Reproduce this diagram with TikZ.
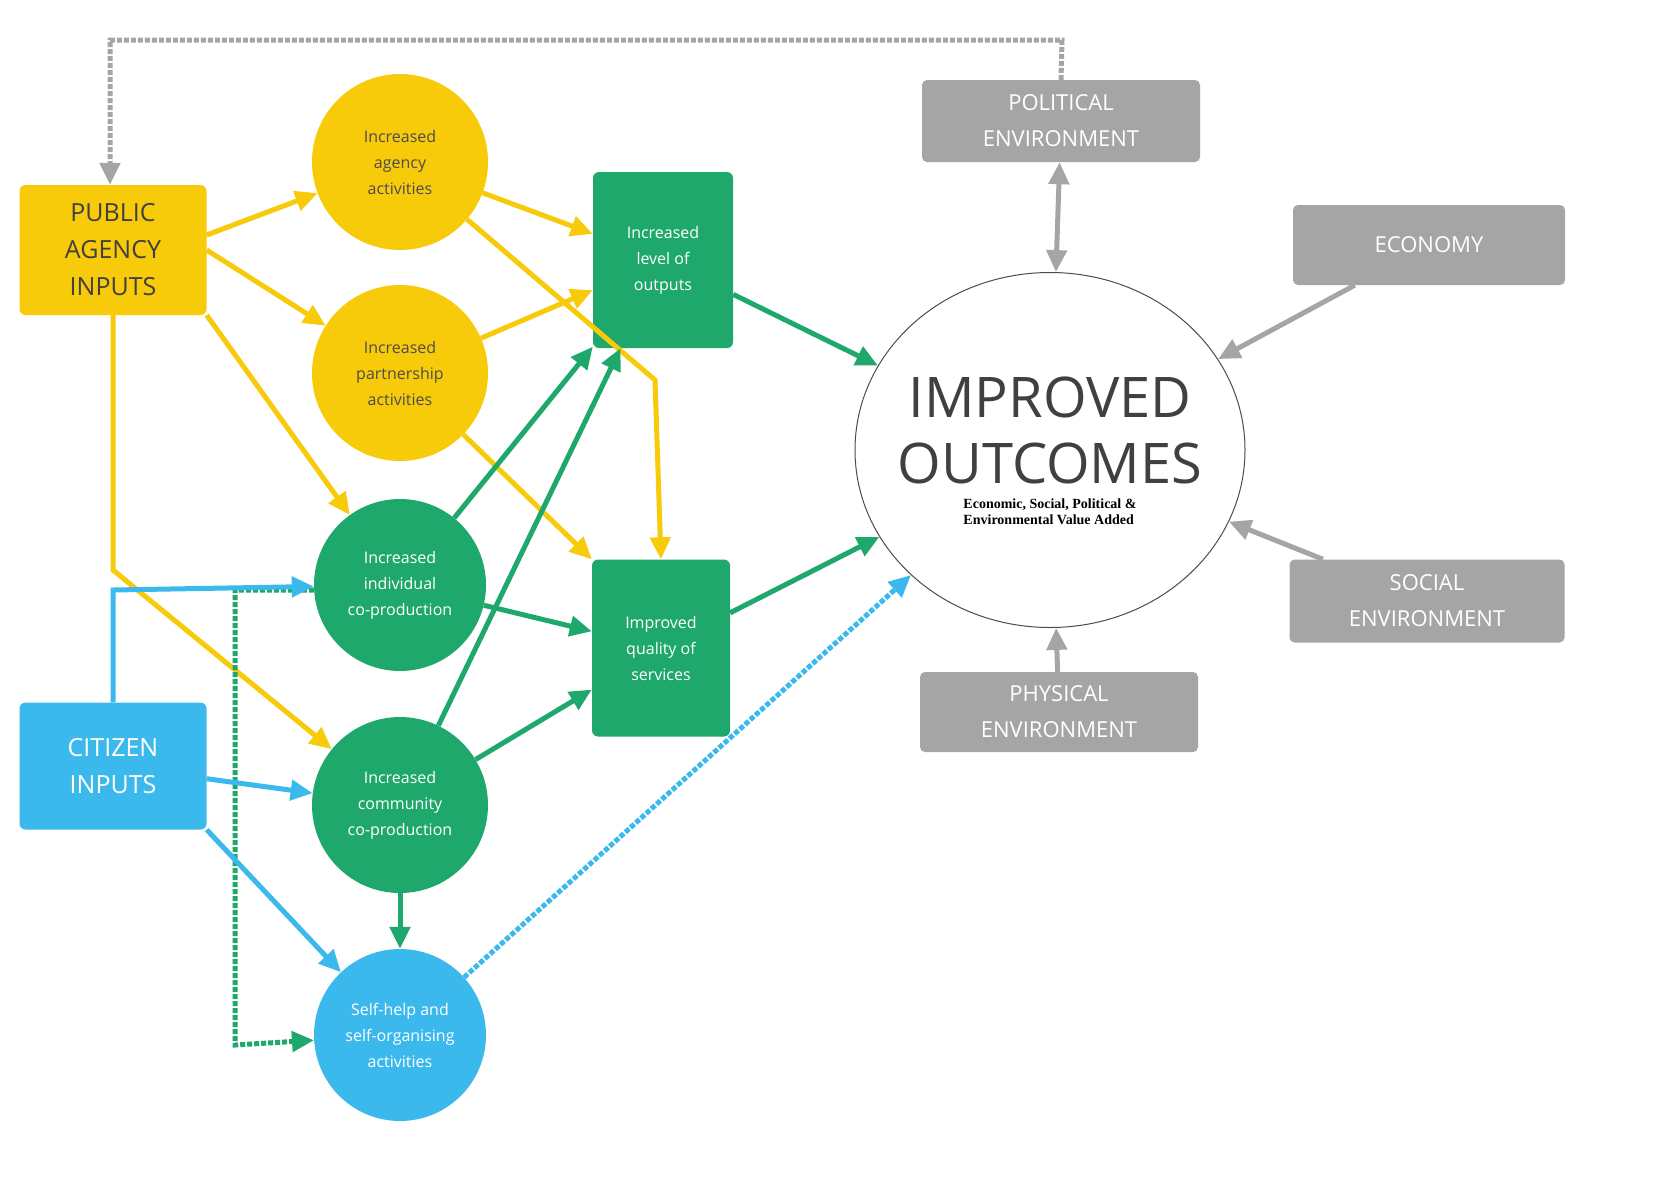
\documentclass[tikz,border=0pt]{standalone}
\usepackage{fontspec}
\setmainfont{Open Sans}
\usetikzlibrary{arrows.meta,shapes.geometric}
\definecolor{cy}{RGB}{247,202,10}
\definecolor{cg}{RGB}{30,168,108}
\definecolor{cb}{RGB}{60,185,236}
\definecolor{cgr}{RGB}{165,165,165}
\begin{document}
\begin{tikzpicture}[x=1pt,y=-1pt,
 box/.style={rectangle,rounded corners=6,align=center,text=#1!50!black,inner sep=0},
 circ/.style={circle,fill=#1,minimum size=176,inner sep=0,align=center,text=white,font=\fontsize{16}{26}\selectfont},
 env/.style={rectangle,fill=cgr,rounded corners=5,minimum width=278,minimum height=82,align=center,text=white,font=\fontsize{22}{36}\selectfont},
 ar/.style={draw=#1,line width=5,-{Triangle[length=22,width=20]}},
 dt/.style={draw=#1,line width=5,dotted,-{Triangle[length=22,width=20]}}]
\useasboundingbox (0,0) rectangle (1659,1184);
\fill[white] (0,0) rectangle (1659,1184);
\node[box=cy,fill=cy,minimum width=187,minimum height=130,text=black!75,font=\fontsize{25}{37}\selectfont] (pub) at (113,250) {PUBLIC\\AGENCY\\INPUTS};
\node[box=cb,fill=cb,minimum width=187,minimum height=127,text=white,font=\fontsize{25}{37}\selectfont] (cit) at (113,766) {CITIZEN\\INPUTS};
\node[circ=cy,text=black!70] (ag) at (400,162) {Increased\\agency\\activities};
\node[circ=cy,text=black!70] (pa) at (400,373) {Increased\\partnership\\activities};
\node[circ=cg,minimum size=172] (ind) at (400,585) {Increased\\individual\\co-production};
\node[circ=cg] (com) at (400,805) {Increased\\community\\co-production};
\node[circ=cb,minimum size=172] (sh) at (400,1035) {Self-help and\\self-organising\\activities};
\node[box=cg,fill=cg,minimum width=140,minimum height=176,text=white,font=\fontsize{16}{26}\selectfont] (out) at (663,260) {Increased\\level of\\outputs};
\node[box=cg,fill=cg,minimum width=138,minimum height=177,text=white,font=\fontsize{16}{26}\selectfont] (qual) at (661,648) {Improved\\quality of\\services};
\node[ellipse,draw=black!70,line width=1,minimum width=390,minimum height=355,align=center,inner sep=0] (oc) at (1050,450) {};
\node[font=\fontsize{56}{66}\selectfont,text=black!75,align=center] at (1050,430) {IMPROVED\\OUTCOMES};
\node[font=\fontsize{14}{16}\selectfont\bfseries\rmfamily,align=left] at (1050,512) {\fontspec{Liberation Serif}Economic, Social, Political \&\\\fontspec{Liberation Serif}Environmental Value Added};
\node[env] (pol) at (1061,121) {POLITICAL\\ENVIRONMENT};
\node[env,minimum width=272,minimum height=80] (eco) at (1429,245) {ECONOMY};
\node[env,minimum width=275,minimum height=83] (soc) at (1427,601) {SOCIAL\\ENVIRONMENT};
\node[env,minimum height=80] (phy) at (1059,712) {PHYSICAL\\ENVIRONMENT};
% yellow
\coordinate (y1) at (113,570);
\coordinate (y2) at (655,380);
\draw[ar=cy] (pub.east) ++(0,-15) -- (ag);
\draw[ar=cy] (pub.east) ++(0,0) -- (pa);
\draw[ar=cy] (pub.south east) -- (ind);
\draw[ar=cy] (pub.south) -- (y1) -- (com);
\draw[ar=cy] (ag) -- (out);
\draw[ar=cy] (pa) -- (out);
\draw[ar=cy] (ag) -- (y2) -- (qual.north);
\draw[ar=cy] (pa) -- (qual.north west);
% green
\draw[ar=cg] (ind) -- (out);
\draw[ar=cg] (com) -- (out);
\draw[ar=cg] (ind) -- (qual);
\draw[ar=cg] (com) -- (qual);
\draw[ar=cg] (com) -- (sh);
\draw[ar=cg] (out) -- (oc);
\draw[ar=cg] (qual) -- (oc);
\coordinate (g1) at (235,590);
\coordinate (g2) at (235,1045);
\draw[dt=cg] (ind.west) ++(0,5) -- (g1) -- (g2) -- (sh);
% blue
\coordinate (b1) at (113,590);
\draw[ar=cb] (cit.north) -- (b1) -- (ind);
\draw[ar=cb] (cit) -- (com);
\draw[ar=cb] (cit.south east) -- (sh);
\draw[dt=cb] (sh) -- (oc);
% gray
\draw[draw=cgr,line width=5,{Triangle[length=22,width=20]}-{Triangle[length=22,width=20]}] (pol) -- (oc);
\draw[ar=cgr] (eco) -- (oc);
\draw[ar=cgr] (soc) -- (oc);
\draw[ar=cgr] (phy) -- (oc);
\coordinate (t1) at (1062,40);
\coordinate (t2) at (110,40);
\draw[dt=cgr] (pol.north) -- (t1) -- (t2) -- (pub.north -| t2);
\end{tikzpicture}
\end{document}
